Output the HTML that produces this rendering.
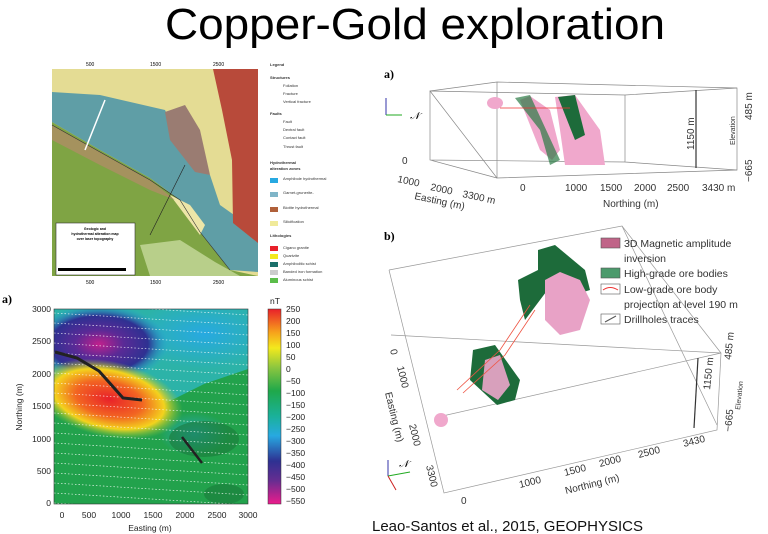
<!DOCTYPE html>
<html><head><meta charset="utf-8"><style>
html,body{margin:0;padding:0;background:#fff;}
svg{display:block;font-family:"Liberation Sans",sans-serif;}
</style></head><body>
<svg width="768" height="534" viewBox="0 0 768 534" xmlns="http://www.w3.org/2000/svg">
<defs>
<linearGradient id="cb" x1="0" y1="0" x2="0" y2="1">
<stop offset="0" stop-color="#e8202a"/><stop offset="0.12" stop-color="#f7a21b"/><stop offset="0.2" stop-color="#f3e91d"/><stop offset="0.3" stop-color="#8cc63f"/><stop offset="0.42" stop-color="#1fa84a"/><stop offset="0.55" stop-color="#1ab19a"/><stop offset="0.65" stop-color="#27a9e1"/><stop offset="0.78" stop-color="#2e3192"/><stop offset="0.88" stop-color="#662d91"/><stop offset="1" stop-color="#ec1c8c"/>
</linearGradient>
<radialGradient id="hot" cx="0.5" cy="0.5" r="0.5"><stop offset="0" stop-color="#e8202a"/><stop offset="0.45" stop-color="#f26522"/><stop offset="0.75" stop-color="#f3d31d"/><stop offset="1" stop-color="#8cc63f" stop-opacity="0"/></radialGradient>
<radialGradient id="cold" cx="0.5" cy="0.5" r="0.5"><stop offset="0" stop-color="#c0208c"/><stop offset="0.35" stop-color="#5a2a96"/><stop offset="0.7" stop-color="#2e3192"/><stop offset="1" stop-color="#27a9e1" stop-opacity="0"/></radialGradient>
<radialGradient id="cyan" cx="0.5" cy="0.5" r="0.5"><stop offset="0" stop-color="#27a9e1"/><stop offset="1" stop-color="#27a9e1" stop-opacity="0"/></radialGradient>
</defs>
<text x="165" y="39" font-size="44" textLength="500" lengthAdjust="spacingAndGlyphs" fill="#000">Copper-Gold exploration</text>

<!-- geologic map -->
<g>
<rect x="52" y="69" width="206" height="207" fill="#e4dc94"/>
<polygon points="52,122 100,150 150,178 180,200 200,232 230,270 258,276 52,276" fill="#7fa444"/>
<polygon points="140,245 180,240 215,262 240,276 150,276" fill="#b8cf8a"/>
<polygon points="52,92 100,95 165,110 180,140 195,170 210,175 220,205 258,232 258,272 230,270 200,232 180,200 150,178 100,150 52,122" fill="#5f9ea6"/>
<polygon points="165,112 185,105 200,130 210,175 195,172 170,140" fill="#9a7c72"/>
<polygon points="170,195 190,205 205,225 200,235 185,215" fill="#ede6a8"/>
<polygon points="52,125 100,152 150,180 175,200 150,190 100,165 52,140" fill="#b58a6a" opacity="0.7"/>
<polygon points="213,69 258,69 258,243 233,223 232,160 222,110" fill="#b84a3a"/>
<path d="M52,125 L100,152 L150,180 L180,200 L200,232 L230,270" stroke="#333" stroke-width="0.6" fill="none"/>
<path d="M150,235 L185,165" stroke="#222" stroke-width="0.6"/>
<path d="M85,150 L105,100" stroke="#fff" stroke-width="1.5"/>
<rect x="56" y="223" width="79" height="52" fill="#fff" stroke="#333" stroke-width="0.6"/>
<text x="95" y="230" font-size="3.5" text-anchor="middle" font-weight="bold">Geologic and</text>
<text x="95" y="235" font-size="3.5" text-anchor="middle" font-weight="bold">hydrothermal alteration map</text>
<text x="95" y="240" font-size="3.5" text-anchor="middle" font-weight="bold">over laser topography</text>
<rect x="58" y="268" width="68" height="3" fill="#000"/>
<text x="86" y="66" font-size="5">500</text><text x="150" y="66" font-size="5">1500</text><text x="213" y="66" font-size="5">2500</text>
<text x="86" y="284" font-size="5">500</text><text x="150" y="284" font-size="5">1500</text><text x="213" y="284" font-size="5">2500</text>
<g font-size="4" fill="#333">
<text x="270" y="66" font-weight="bold">Legend</text>
<text x="270" y="79" font-weight="bold">Structures</text>
<text x="283" y="87">Foliation</text><text x="283" y="95">Fracture</text><text x="283" y="103">Vertical fracture</text>
<text x="270" y="115" font-weight="bold">Faults</text>
<text x="283" y="123">Fault</text><text x="283" y="131">Dextral fault</text><text x="283" y="139">Contact fault</text><text x="283" y="148">Thrust fault</text>
<text x="270" y="164" font-weight="bold">Hydrothermal</text><text x="270" y="170" font-weight="bold">alteration zones</text>
<text x="283" y="180">Amphibole hydrothermal</text><text x="283" y="194">Garnet-grunerite-</text><text x="283" y="209">Biotite hydrothermal</text><text x="283" y="223">Silicification</text>
<text x="270" y="237" font-weight="bold">Lithologies</text>
<text x="283" y="249">Cigano granite</text><text x="283" y="257">Quartzite</text><text x="283" y="265">Amphibolitic schist</text><text x="283" y="273">Banded iron formation</text><text x="283" y="281">Aluminous schist</text>
</g>
<rect x="270" y="178" width="8" height="5" fill="#27a9e1"/><rect x="270" y="192" width="8" height="5" fill="#7fb5c8"/><rect x="270" y="207" width="8" height="5" fill="#b0603a"/><rect x="270" y="221" width="8" height="5" fill="#f0ea9a"/>
<rect x="270" y="246" width="8" height="5" fill="#e8202a"/><rect x="270" y="254" width="8" height="5" fill="#f3e91d"/><rect x="270" y="262" width="8" height="5" fill="#1a6f6a"/><rect x="270" y="270" width="8" height="5" fill="#ccc"/><rect x="270" y="278" width="8" height="5" fill="#5bbd4a"/>
</g>

<!-- mag map -->
<text x="2" y="303" font-size="12" font-family="Liberation Serif" font-weight="bold">a)</text>
<g>
<svg x="54" y="309" width="194" height="195" viewBox="0 0 194 195">
<rect width="194" height="195" fill="#22a24c"/>
<polygon points="0,0 194,0 194,60 150,75 110,95 60,85 0,70" fill="#2cb3a8"/>
<ellipse cx="150" cy="25" rx="70" ry="35" fill="url(#cyan)"/>
<ellipse cx="140" cy="125" rx="35" ry="22" fill="url(#cyan)" opacity="0.7"/>
<ellipse cx="45" cy="35" rx="70" ry="40" fill="url(#cold)"/>
<ellipse cx="55" cy="90" rx="75" ry="38" fill="url(#hot)" transform="rotate(12 55 90)"/>
<ellipse cx="150" cy="130" rx="35" ry="18" fill="#1a7a3a" opacity="0.6"/>
<ellipse cx="170" cy="185" rx="20" ry="10" fill="#1a7a3a" opacity="0.6"/>
<g stroke="#fff" stroke-width="0.7" stroke-dasharray="1.5 2" opacity="0.85">
<path d="M0,-6 L194,6 M0,4 L194,16 M0,14 L194,26 M0,24 L194,36 M0,34 L194,46 M0,44 L194,56 M0,54 L194,66 M0,64 L194,76 M0,74 L194,86 M0,84 L194,96 M0,94 L194,106 M0,104 L194,116 M0,114 L194,126 M0,124 L194,136 M0,134 L194,146 M0,144 L194,156 M0,154 L194,166 M0,164 L194,176 M0,174 L194,186 M0,184 L194,196 M0,194 L194,206"/>
</g>
<path d="M1,43 L23,49 L45,62 L69,89 L88,91" stroke="#222" stroke-width="3" fill="none"/>
<path d="M128,128 L148,154" stroke="#222" stroke-width="2.5" fill="none"/>
</svg>
<rect x="54" y="309" width="194" height="195" fill="none" stroke="#333" stroke-width="0.6"/>
<rect x="268" y="309" width="13" height="195" fill="url(#cb)" stroke="#333" stroke-width="0.5"/>
<g font-size="8.5" fill="#222">
<text x="270" y="304">nT</text>
<text x="286" y="312">250</text><text x="286" y="324">200</text><text x="286" y="336">150</text><text x="286" y="348">100</text><text x="286" y="360">50</text><text x="286" y="372">0</text><text x="286" y="384">−50</text><text x="286" y="396">−100</text><text x="286" y="408">−150</text><text x="286" y="420">−200</text><text x="286" y="432">−250</text><text x="286" y="444">−300</text><text x="286" y="456">−350</text><text x="286" y="468">−400</text><text x="286" y="480">−450</text><text x="286" y="492">−500</text><text x="286" y="504">−550</text>
<g text-anchor="end"><text x="51" y="312">3000</text><text x="51" y="344">2500</text><text x="51" y="377">2000</text><text x="51" y="409">1500</text><text x="51" y="442">1000</text><text x="51" y="474">500</text><text x="51" y="506">0</text></g>
<g text-anchor="middle"><text x="62" y="518">0</text><text x="89" y="518">500</text><text x="121" y="518">1000</text><text x="153" y="518">1500</text><text x="185" y="518">2000</text><text x="217" y="518">2500</text><text x="248" y="518">3000</text></g>
<text x="150" y="531" text-anchor="middle">Easting (m)</text>
<text transform="translate(22 407) rotate(-90)" text-anchor="middle">Northing (m)</text>
</g>
</g>

<!-- 3D a -->
<text x="384" y="78" font-size="12" font-family="Liberation Serif" font-weight="bold">a)</text>
<g stroke="#888" stroke-width="0.7" fill="none">
<path d="M430,91 L497,82 L737,88 L737,170 L497,178 Z"/>
<path d="M497,82 L497,178 M430,91 L430,160 L497,178 M430,91 L625,95 L737,88 M625,95 L625,162 L737,170 M430,160 L625,162"/>
</g>
<g>
<path d="M520,100 L530,96 L550,110 L560,150 L552,160 L540,150 Z" fill="#f0a8cc"/>
<path d="M515,98 L530,95 L560,160 L550,165 L540,130 Z" fill="#2b7a45" opacity="0.7"/>
<path d="M555,97 L575,95 L600,130 L605,165 L565,165 L560,130 Z" fill="#f0a8cc"/>
<path d="M558,97 L575,95 L585,135 L575,140 Z" fill="#1d6b3a"/>
<ellipse cx="495" cy="103" rx="8" ry="6" fill="#f0a8cc"/>
<path d="M500,108 L570,108" stroke="#e33" stroke-width="0.8"/>
</g>
<path d="M696,90 L696,168" stroke="#333" stroke-width="1.2"/>
<g font-size="10" fill="#333" font-family="Liberation Sans">
<text transform="translate(694 150) rotate(-90)">1150 m</text>
<text transform="translate(752 120) rotate(-90)">485 m</text>
<text transform="translate(752 182) rotate(-90)">−665</text>
<text transform="translate(735 145) rotate(-90)" font-size="7">Elevation</text>
<text x="520" y="191">0</text><text x="565" y="191">1000</text><text x="600" y="191">1500</text><text x="634" y="191">2000</text><text x="667" y="191">2500</text><text x="702" y="191">3430 m</text>
<text x="603" y="207">Northing (m)</text>
<text x="402" y="164">0</text>
<text x="397" y="182" transform="rotate(12 397 182)">1000</text><text x="430" y="190" transform="rotate(12 430 190)">2000</text><text x="462" y="197" transform="rotate(12 462 197)">3300 m</text>
<text x="414" y="199" transform="rotate(12 414 199)">Easting (m)</text>
</g>
<g stroke-width="1"><path d="M386,115 L386,98" stroke="#33a"/><path d="M386,115 L402,115" stroke="#2a2"/></g>
<text x="410" y="119" font-size="10" font-family="Liberation Serif" font-style="italic">𝒩</text>

<!-- 3D b -->
<text x="384" y="240" font-size="12" font-family="Liberation Serif" font-weight="bold">b)</text>
<g stroke="#999" stroke-width="0.7" fill="none">
<path d="M389,270 L622,226 L721,353 L717,430 L444,493 L389,270"/>
<path d="M391,335 L721,353 M438,417 L721,353 M622,226 L717,425"/>
</g>
<g>
<path d="M538,250 L555,245 L585,270 L590,290 L558,300 L555,280 L525,320 L520,300 L518,280 L538,270 Z" fill="#1d6b3a"/>
<path d="M545,280 L560,272 L580,280 L590,300 L580,330 L560,335 L545,320 Z" fill="#e8a2c6"/>
<path d="M473,350 L495,345 L520,380 L515,400 L497,405 L470,380 Z" fill="#1d6b3a"/>
<path d="M485,360 L500,355 L510,385 L498,400 L482,390 Z" fill="#d8a0bc"/>
<ellipse cx="441" cy="420" rx="7" ry="7" fill="#f0a8cc"/>
<path d="M457,390 L500,350 L530,305 M463,393 L505,355 L535,310" stroke="#e54" stroke-width="0.8" fill="none"/>
</g>
<rect x="601" y="238" width="19" height="10" fill="#c06488" stroke="#555" stroke-width="0.6"/>
<rect x="601" y="268" width="19" height="10" fill="#4c9a6c" stroke="#555" stroke-width="0.6"/>
<rect x="601" y="284" width="19" height="10" fill="#fff" stroke="#555" stroke-width="0.6"/>
<path d="M603,290 Q610,285 618,290" stroke="#e33" fill="none"/>
<rect x="601" y="314" width="19" height="10" fill="#fff" stroke="#555" stroke-width="0.6"/>
<path d="M605,322 L616,316" stroke="#555"/>
<g font-size="10.5" fill="#333" font-family="Liberation Sans">
<text x="624" y="247">3D Magnetic amplitude</text><text x="624" y="262">inversion</text>
<text x="624" y="277">High-grade ore bodies</text>
<text x="624" y="293">Low-grade ore body</text><text x="624" y="308">projection at level 190 m</text>
<text x="624" y="323">Drillholes traces</text>
</g>
<path d="M698,358 L694,428" stroke="#333" stroke-width="1.2"/>
<g font-size="10" fill="#333">
<text transform="translate(710 390) rotate(-84)">1150 m</text>
<text transform="translate(731 360) rotate(-84)">485 m</text>
<text transform="translate(731 432) rotate(-84)">−665</text>
<text transform="translate(740 410) rotate(-84)" font-size="7">Elevation</text>
<text x="684" y="447" transform="rotate(-14 684 447)">3430</text>
<text x="639" y="458" transform="rotate(-14 639 458)">2500</text>
<text x="600" y="467" transform="rotate(-14 600 467)">2000</text>
<text x="565" y="476" transform="rotate(-14 565 476)">1500</text>
<text x="520" y="488" transform="rotate(-14 520 488)">1000</text>
<text x="566" y="494" transform="rotate(-14 566 494)">Northing (m)</text>
<text x="461" y="504">0</text>
<text transform="translate(390 350) rotate(76)">0</text>
<text transform="translate(397 367) rotate(76)">1000</text>
<text transform="translate(409 425) rotate(76)">2000</text>
<text transform="translate(426 466) rotate(76)">3300</text>
<text transform="translate(385 393) rotate(76)">Easting (m)</text>
</g>
<g stroke-width="1"><path d="M388,476 L388,460" stroke="#33a"/><path d="M388,476 L410,472" stroke="#2a2"/><path d="M388,476 L396,490" stroke="#c22"/></g>
<text x="399" y="467" font-size="10" font-family="Liberation Serif" font-style="italic">𝒩</text>

<text x="372" y="531" font-size="15" fill="#111">Leao-Santos et al., 2015, GEOPHYSICS</text>
</svg>
</body></html>
